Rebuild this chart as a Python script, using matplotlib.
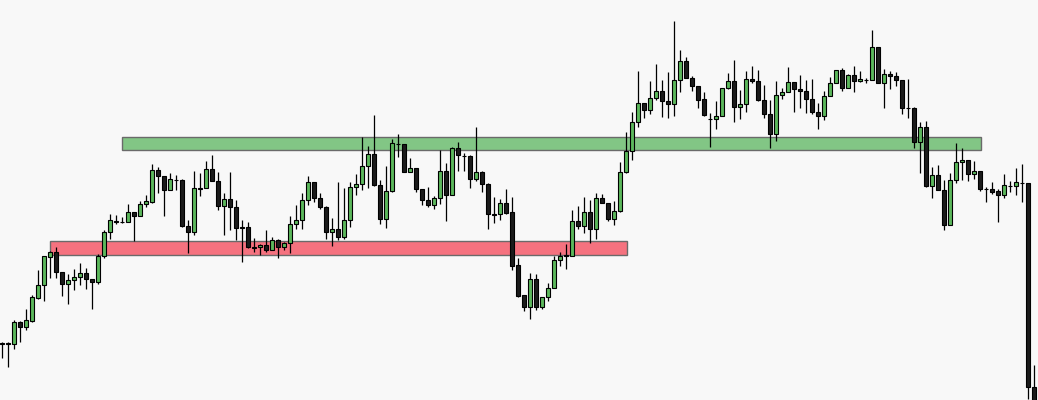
import numpy as np
import matplotlib
matplotlib.use("Agg")
import matplotlib.pyplot as plt
from matplotlib.patches import Rectangle

# === Candle data (price units) ===
opens = [57.5, 57, 56, 78, 73, 79, 102, 115, 143, 148,
         128, 116, 120, 123, 127, 121, 118, 144, 168, 179,
         178.5, 178, 188, 184, 196, 198, 230, 224, 210, 220.5,
         220, 174, 168, 212, 212, 231, 219, 194, 201, 193,
         173, 173, 153, 153, 155, 150, 160, 153, 157, 176,
         180, 200, 218, 202, 193, 168, 171, 163, 180, 213,
         216, 234, 246, 215, 181, 209, 256.5, 256, 228, 232,
         211, 200, 195, 202, 229, 205, 252, 244.5, 244, 221,
         228, 216, 186, 186, 197, 188, 135, 105, 93, 121,
         93, 103, 112, 140, 145, 144, 179, 174, 188, 171,
         202, 197, 181, 189, 228, 249, 278, 297, 290, 302,
         309, 299, 296, 320, 339, 322, 314, 301, 281.5, 281,
         284, 312, 319, 293, 296, 321, 319, 300, 286, 266,
         305, 308, 318, 311, 309, 301, 288, 284, 304, 317,
         330, 312, 325, 319, 320.5, 320, 353, 317, 326, 324,
         320, 292.5, 292, 258, 273, 214, 225, 210, 175, 220,
         238, 240, 226, 229, 211.5, 211, 209, 205, 214.5, 214,
         217.5, 217, 13]
highs = [58.5, 58, 80, 79, 91, 105, 130, 144, 149, 153,
         128, 126, 131, 137, 132, 121, 146, 170, 186, 185,
         183, 196, 188, 199, 205, 236, 233, 224, 227, 225,
         221, 180, 229, 227, 239, 245, 228, 207, 228, 200,
         180, 178, 162, 156, 170, 163, 161, 158, 184, 195,
         207, 224, 218, 207, 194, 182, 218, 212, 218, 226,
         263, 254, 285, 220, 234, 261, 266, 256, 242, 232,
         211, 213, 204, 250, 237, 253, 258, 247, 245, 273,
         229, 217, 203, 201, 211, 203, 142, 105, 127, 126,
         103, 117, 144, 148, 156, 190, 194, 203, 200, 207,
         206, 197, 199, 238, 268, 288, 329, 297, 319, 336,
         320, 328, 379, 350, 343, 324, 314, 308, 287, 299,
         312, 327, 340, 310, 329, 334, 330, 315, 300, 319,
         312, 333, 318, 325, 320, 321, 297, 309, 323, 330,
         332, 326, 334, 329, 322, 370, 353, 331, 329, 328,
         320, 321, 293, 278, 279, 233, 235, 220, 227, 257,
         252, 240, 239, 229, 213, 218, 211, 226, 219, 232,
         236, 217, 35]
lows = [42, 33, 51, 58, 70, 78, 101, 99, 122, 122,
        104, 96, 110, 115, 111, 91, 116, 142, 161, 176,
        177, 178, 159, 184, 193, 197, 207, 184, 210, 210,
        173, 147, 165, 204, 212, 219, 190, 165, 170, 160,
        138, 152, 148, 145, 148, 150, 142, 150, 147, 171,
        171, 195, 198, 191, 161, 154, 160, 161, 173, 205,
        210, 212, 214, 176, 172, 208, 243, 228, 228, 208,
        195, 193, 191, 196, 179, 205, 229, 229, 212, 219,
        208, 171, 177, 180, 186, 130, 103, 89, 81, 90,
        91, 99, 112, 134, 131, 144, 171, 167, 157, 161,
        197, 179, 175, 188, 227, 240, 273, 282, 286, 300,
        283, 282, 284, 308, 322, 309, 292, 284, 253, 271,
        284, 311, 278, 281, 288, 317, 299, 282, 252, 259,
        301, 308, 288, 292, 287, 286, 271, 280, 304, 317,
        309, 312, 308, 318, 317, 320, 317, 292, 311, 314,
        286, 282, 252, 227, 213, 202, 210, 170, 175, 217,
        220, 219, 221, 209, 198, 206, 178, 202, 208, 205,
        198, 1, -10]
closes = [56, 56.5, 78, 73, 80, 103, 115, 144, 148, 128,
          116, 120, 123, 127, 121, 118, 144, 168, 180, 178.5,
          178, 188, 184, 196, 199, 230, 224, 210, 221, 220,
          174, 168, 212, 211.5, 231, 219, 194, 201, 193, 172,
          172.5, 153, 152.5, 155, 150, 160, 153, 157, 176, 180,
          200, 218, 202, 193, 168, 171, 163, 180, 213, 216,
          234, 246, 215, 181, 209, 257, 256, 228, 232, 211,
          200, 195, 202, 229, 205, 252, 245, 244, 221, 228,
          216, 186, 185.5, 197, 187, 134, 104, 93, 121, 93,
          103, 112, 140, 144, 144.5, 179, 174, 188, 171, 202,
          197, 181, 189, 228, 249, 278, 297, 290, 302, 309,
          299, 296, 320, 339, 322, 314, 300, 285, 281, 284,
          312, 319, 293, 296, 321, 319, 300, 286, 266, 305,
          308, 318, 311, 309, 301, 288, 284, 304, 317, 330,
          312, 325, 319, 321, 320, 353, 317, 326, 324, 320,
          292, 292, 258, 273, 214, 225, 210, 175, 220, 238,
          240, 226, 229, 211, 211, 208, 205, 215, 214, 218,
          217, 13, -5]

# === Zones: (first candle, last candle, low, high) ===
support_zone = (8, 104.2, 145.5, 159)
resistance_zone = (20, 163.2, 249.7, 262.7)

UP = "#5cb85c"
DOWN = "#1b1b1b"
BG = "#f8f8f8"

fig = plt.figure(figsize=(10.38, 4.0), dpi=100, facecolor=BG)
ax = fig.add_axes([0, 0, 1, 1])
ax.set_facecolor(BG)

# zones
for (x0, x1, lo, hi), col in [(support_zone, "#f5727f"), (resistance_zone, "#82c685")]:
    ax.add_patch(Rectangle((x0, lo), x1 - x0, hi - lo, facecolor=col,
                           edgecolor="#6a6a6a", linewidth=1.0, zorder=1))

# candles
x = np.arange(len(opens))
o = np.array(opens)
h = np.array(highs)
l = np.array(lows)
c = np.array(closes)
up = c > o
colors = np.where(up, UP, DOWN)

ax.vlines(x, l, h, color="black", linewidth=0.9, zorder=2)
ax.bar(x, np.abs(c - o), bottom=np.minimum(o, c), width=0.75,
       color=colors, edgecolor="black", linewidth=0.8, zorder=3)

ax.set_xlim(-1 / 3, 172.67)
ax.set_ylim(0, 400)
ax.axis("off")

fig.savefig("out.png", dpi=100, facecolor=BG)
plt.close(fig)
